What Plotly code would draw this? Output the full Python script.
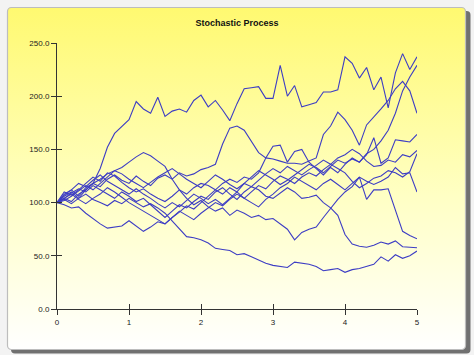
import base64
import plotly.graph_objects as go

# ---- data ----
times = [0.0, 0.1, 0.2, 0.3, 0.4, 0.5, 0.6, 0.7, 0.8, 0.9, 1.0,
         1.1, 1.2, 1.3, 1.4, 1.5, 1.6, 1.7, 1.8, 1.9, 2.0,
         2.1, 2.2, 2.3, 2.4, 2.5, 2.6, 2.7, 2.8, 2.9, 3.0,
         3.1, 3.2, 3.3, 3.4, 3.5, 3.6, 3.7, 3.8, 3.9, 4.0,
         4.1, 4.2, 4.3, 4.4, 4.5, 4.6, 4.7, 4.8, 4.9, 5.0]

path1 = [100, 104, 101, 108, 112, 118, 132, 152, 165, 172, 178,
         195, 188, 184, 199, 181, 186, 188, 185, 196, 201,
         190, 196, 187, 177, 193, 207, 208, 209, 198, 198,
         229, 200, 210, 190, 192, 194, 204, 204, 206, 237,
         231, 217, 227, 206, 218, 189, 222, 240, 225, 237]
path2 = [100, 110, 107, 112, 118, 124, 120, 128, 125, 119, 114,
         110, 113, 108, 104, 101, 106, 112, 108, 114, 118,
         116, 112, 118, 122, 119, 124, 122, 128, 142, 153,
         154, 138, 148, 150, 138, 132, 126, 133, 128, 136,
         142, 138, 146, 150, 158, 168, 184, 205, 218, 229]
path3 = [100, 106, 110, 104, 112, 118, 115, 122, 126, 121, 118,
         125, 120, 116, 123, 126, 122, 128, 125, 127, 131,
         133, 136, 155, 170, 172, 168, 158, 147, 142, 141,
         139, 137, 137, 136, 139, 142, 164, 172, 185, 178,
         168, 154, 173, 180, 188, 196, 207, 214, 205, 184]
path4 = [100, 108, 112, 106, 114, 118, 122, 127, 130, 133, 138,
         143, 147, 144, 139, 134, 122, 112, 104, 98, 102,
         96, 92, 95, 88, 93, 90, 86, 88, 84, 85,
         80, 75, 65, 72, 75, 77, 86, 95, 103, 110,
         115, 124, 103, 112, 112, 113, 93, 73, 69, 66]
path5 = [100, 104, 109, 113, 110, 116, 112, 108, 104, 110, 106,
         101, 104, 98, 92, 86, 92, 98, 95, 101, 106,
         103, 110, 114, 108, 103, 110, 115, 112, 106, 104,
         109, 114, 110, 104, 105, 107, 100, 95, 88, 70,
         61, 59, 58, 60, 63, 61, 64, 58.5, 58, 57.6]
path6 = [100, 103, 99, 104, 108, 103, 100, 97, 102, 99, 104,
         100, 96, 99, 95, 90, 83, 76, 68, 67, 65,
         62, 57, 56, 55, 51, 52, 49, 46, 43, 41,
         40, 39, 44, 43, 42, 40, 36, 37, 38, 34.5,
         37, 38, 40, 42, 49, 45, 51, 47.6, 50, 54.5]
path7 = [100, 98, 95, 96, 90, 85, 80, 76, 77, 78, 83,
         78, 73, 77, 82, 80, 86, 92, 88, 84, 90,
         95, 100, 97, 103, 108, 104, 110, 116, 113, 120,
         125, 122, 118, 124, 128, 125, 131, 136, 132, 128,
         120, 114, 118, 123, 125, 130, 128, 124, 129, 146]
path8 = [100, 107, 112, 118, 115, 121, 126, 120, 116, 112, 108,
         113, 108, 104, 99, 95, 100, 96, 102, 108, 104,
         99, 103, 98, 104, 110, 118, 124, 130, 126, 122,
         117, 121, 126, 131, 136, 133, 128, 134, 140, 137,
         141, 138, 145, 161, 137, 142, 159, 158, 157, 164]
path9 = [100, 104, 108, 103, 99, 104, 108, 114, 110, 105, 100,
         96, 92, 88, 84, 80, 86, 91, 97, 94, 100,
         106, 112, 108, 114, 110, 104, 100, 96, 103, 108,
         114, 118, 124, 120, 116, 112, 118, 122, 117, 112,
         118, 124, 120, 117, 120, 124, 133, 127, 128, 110]
path10 = [100, 102, 106, 111, 116, 112, 118, 124, 130, 127, 122,
          118, 114, 119, 124, 128, 132, 127, 122, 118, 114,
          120, 126, 122, 117, 113, 118, 115, 121, 127, 132,
          128, 134, 130, 126, 131, 135, 140, 136, 142, 145,
          150, 146, 139, 134, 135, 140, 138, 145, 143, 149]

paths = [path1, path2, path3, path4, path5, path6, path7, path8, path9, path10]

x_ticks = [0, 1, 2, 3, 4, 5]
y_ticks = [0, 50, 100, 150, 200, 250]
y_tick_labels = ["0.0", "50.0", "100.0", "150.0", "200.0", "250.0"]
chart_title = "Stochastic Process"

# ---- figure ----
W, H = 474, 355
ML, MR, MT, MB = 57, 57, 43, 46
PW, PH = W - ML - MR, H - MT - MB

LINE_COLOR = "#3d3dc4"
AXIS_COLOR = "#333333"
FONT = "Liberation Sans"

fig = go.Figure()
for p in paths:
    fig.add_trace(go.Scatter(x=times, y=p, mode="lines",
                             line=dict(color=LINE_COLOR, width=1.1),
                             showlegend=False, hoverinfo="skip"))
# dummy trace for overlay axes (inner half of crossing ticks)
fig.add_trace(go.Scatter(x=[None], y=[None], xaxis="x2", yaxis="y2",
                         showlegend=False, hoverinfo="skip"))

svg = f'''<svg xmlns="http://www.w3.org/2000/svg" width="{W}" height="{H}" viewBox="0 0 {W} {H}" preserveAspectRatio="none">
<defs><linearGradient id="g" x1="0" y1="0" x2="0" y2="1">
<stop offset="0" stop-color="#FFF970"/><stop offset="0.55" stop-color="#FFFFC4"/><stop offset="1" stop-color="#FFFFFF"/>
</linearGradient></defs>
<rect x="0" y="0" width="{W}" height="{H}" fill="#F3F3F3"/>
<rect x="11" y="11" width="459.5" height="342.5" rx="4" fill="#707070"/>
<rect x="7.5" y="7.5" width="458" height="342" rx="4" fill="url(#g)" stroke="#BDBDBD" stroke-width="1.2"/>
</svg>'''
uri = "data:image/svg+xml;base64," + base64.b64encode(svg.encode()).decode()

fig.add_layout_image(dict(source=uri, xref="paper", yref="paper",
                          x=-ML / PW, y=1 + MT / PH, sizex=W / PW, sizey=H / PH,
                          xanchor="left", yanchor="top", sizing="stretch",
                          layer="below"))

axis_common = dict(showgrid=False, zeroline=False, showline=True,
                   linecolor=AXIS_COLOR, linewidth=1,
                   ticks="outside", ticklen=5, tickwidth=1, tickcolor=AXIS_COLOR,
                   tickfont=dict(family=FONT, size=8, color="#222222"))

fig.update_layout(
    width=W, height=H,
    margin=dict(l=ML, r=MR, t=MT, b=MB),
    paper_bgcolor="rgba(0,0,0,0)", plot_bgcolor="rgba(0,0,0,0)",
    title=dict(text=f"<b>{chart_title}</b>", x=0.5, xref="paper",
               y=1 - 22.5 / H, yref="container", yanchor="middle",
               font=dict(family=FONT, size=9, color="#111111")),
    xaxis=dict(range=[0, 5], tickvals=x_ticks, ticktext=[str(v) for v in x_ticks], **axis_common),
    yaxis=dict(range=[0, 250], tickvals=y_ticks, ticktext=y_tick_labels, **axis_common),
    xaxis2=dict(range=[0, 5], overlaying="x", anchor="y2", side="bottom",
                tickvals=x_ticks, ticks="inside", ticklen=5, tickcolor=AXIS_COLOR,
                showticklabels=False, showline=False, showgrid=False, zeroline=False),
    yaxis2=dict(range=[0, 250], overlaying="y", anchor="x2", side="left",
                tickvals=y_ticks, ticks="inside", ticklen=5, tickcolor=AXIS_COLOR,
                showticklabels=False, showline=False, showgrid=False, zeroline=False),
)

fig.write_html("out.html",
               config={"displayModeBar": False, "staticPlot": True},
               post_script="document.body.style.margin='0';document.body.style.overflow='hidden';")
